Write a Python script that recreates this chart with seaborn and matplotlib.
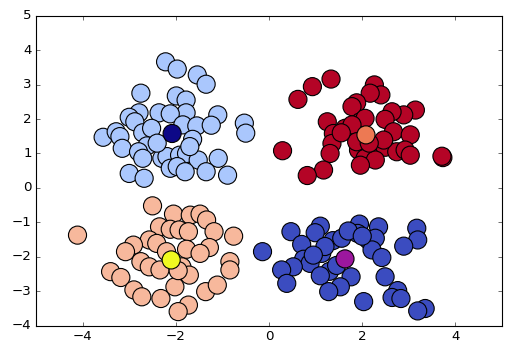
import matplotlib
matplotlib.use("Agg")
import matplotlib.pyplot as plt
import seaborn as sns
import pandas as pd
import numpy as np

# cluster 0: blue (bottom right)
c0_x = [-0.14, 0.47, 1.10, 0.99, 0.70, 1.37, 1.56, 1.94, 1.90, 2.35, 2.13, 2.28, 2.21, 2.42,
        3.17, 3.19, 2.89, 1.13, 0.74, 0.88, 0.52, 0.27, 0.38, 1.30, 1.10, 1.76, 1.53, 1.28,
        2.49, 2.76, 2.64, 2.83, 2.03, 3.35, 3.19, 1.45, 1.20, 0.95, 1.70, 2.00]
c0_y = [-1.85, -1.27, -1.11, -1.30, -1.64, -1.53, -1.46, -1.05, -1.32, -1.13, -1.51, -1.46, -1.80, -2.02,
        -1.17, -1.51, -1.69, -1.90, -2.07, -2.19, -2.29, -2.38, -2.77, -2.42, -2.55, -2.58, -2.87, -3.01,
        -2.58, -2.98, -3.18, -3.21, -3.30, -3.50, -3.57, -2.25, -1.70, -1.95, -1.25, -1.40]

# cluster 1: light blue (top left)
c1_x = [-2.22, -1.97, -1.54, -1.35, -2.75, -1.99, -1.78, -2.36, -1.78, -1.10, -2.79, -3.00, -2.88,
        -2.12, -1.85, -1.55, -1.24, -0.53, -0.50, -3.56, -3.28, -3.20, -2.71, -2.52, -1.64, -3.15,
        -2.62, -2.80, -2.71, -2.30, -2.19, -1.92, -1.77, -1.52, -1.09, -3.00, -2.68, -2.12, -1.97,
        -1.80, -1.35, -0.89, -2.40, -1.70]
c1_y = [3.66, 3.45, 3.28, 3.01, 2.75, 2.67, 2.55, 2.18, 2.18, 2.12, 2.18, 2.05, 1.92,
        2.15, 1.83, 1.80, 1.82, 1.88, 1.59, 1.47, 1.63, 1.49, 1.60, 1.73, 1.41, 1.15,
        1.22, 1.05, 0.86, 0.86, 0.91, 0.95, 1.00, 0.81, 0.86, 0.42, 0.28, 0.57, 0.62,
        0.47, 0.47, 0.37, 1.30, 1.20]

# cluster 2: peach (bottom left)
c2_x = [-4.11, -2.50, -2.05, -1.69, -1.48, -1.34, -2.35, -2.12, -1.93, -1.73, -1.18, -0.76, -2.57,
        -2.41, -2.91, -3.08, -1.77, -1.28, -1.48, -2.75, -2.57, -2.34, -1.87, -1.71, -0.84, -0.84,
        -3.40, -3.18, -2.90, -2.73, -2.32, -2.02, -1.36, -1.11, -1.73, -1.95, -2.20, -1.95]
c2_y = [-1.37, -0.52, -0.76, -0.79, -0.76, -0.93, -1.13, -1.20, -1.22, -1.27, -1.27, -1.40, -1.51,
        -1.61, -1.66, -1.85, -1.78, -1.73, -1.90, -2.14, -2.29, -2.38, -2.29, -2.53, -2.14, -2.38,
        -2.43, -2.60, -2.96, -3.16, -3.21, -2.87, -3.01, -2.82, -3.40, -3.59, -1.85, -2.40]

# cluster 3: red (top right)
c3_x = [1.33, 0.93, 0.62, 2.26, 2.40, 2.17, 1.88, 1.78, 3.14, 2.89, 2.64, 2.49, 1.25, 1.63,
        1.96, 2.06, 1.38, 1.78, 2.67, 3.03, 1.35, 1.31, 0.29, 1.92, 2.24, 2.49, 2.74, 2.92,
        3.03, 3.73, 3.71, 2.06, 2.28, 1.96, 1.17, 0.82, 1.88, 2.46, 2.15, 1.55]
c3_y = [3.16, 2.94, 2.57, 2.99, 2.70, 2.75, 2.47, 2.36, 2.26, 2.12, 2.21, 1.99, 1.92, 1.73,
        1.92, 2.02, 1.58, 1.83, 1.63, 1.54, 1.29, 1.00, 1.08, 1.10, 1.20, 1.18, 1.05, 1.10,
        0.95, 0.88, 0.92, 0.86, 0.81, 0.66, 0.52, 0.36, 1.34, 1.39, 1.30, 1.60]

# centroids
cent_x = [-2.08, 1.63, 2.08, -2.10]
cent_y = [1.58, -2.06, 1.54, -2.09]
cent_label = [0, 1, 2, 3]

xs = c0_x + c1_x + c2_x + c3_x
ys = c0_y + c1_y + c2_y + c3_y
labels = [0] * len(c0_x) + [1] * len(c1_x) + [2] * len(c2_x) + [3] * len(c3_x)
df = pd.DataFrame({"x": xs, "y": ys, "label": labels})
cdf = pd.DataFrame({"x": cent_x, "y": cent_y, "label": cent_label})

plt.style.use("classic")
fig = plt.figure(figsize=(511 / 80, 356 / 80), dpi=80)
ax = fig.add_axes([0.0705, 0.085, 0.912, 0.871])

cw = plt.get_cmap("coolwarm")
pl = plt.get_cmap("plasma")
pal_pts = {k: cw(k / 3) for k in range(4)}
pal_cent = {k: pl(k / 3) for k in range(4)}

sns.scatterplot(data=df, x="x", y="y", hue="label", palette=pal_pts, s=265,
                edgecolor="black", linewidth=1, legend=False, ax=ax, zorder=2)
sns.scatterplot(data=cdf, x="x", y="y", hue="label", palette=pal_cent, s=265,
                edgecolor="black", linewidth=1, legend=False, ax=ax, zorder=3)

ax.set_xlim(-5, 5)
ax.set_ylim(-4, 5)
ax.set_xlabel("")
ax.set_ylabel("")
ax.set_xticks([-4, -2, 0, 2, 4])
ax.set_yticks([-4, -3, -2, -1, 0, 1, 2, 3, 4, 5])
fig.savefig("out.png", dpi=80, facecolor="white")
